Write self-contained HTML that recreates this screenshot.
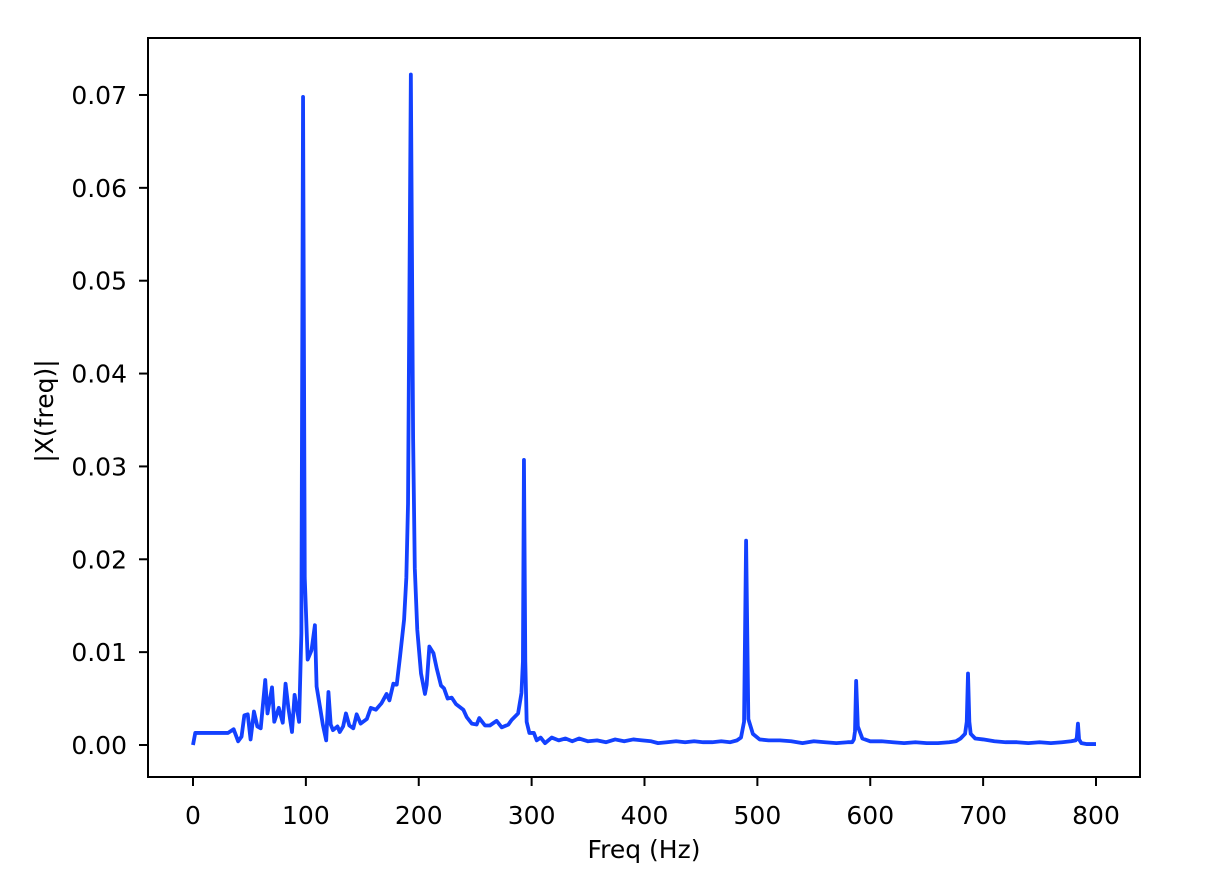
<!DOCTYPE html>
<html><head><meta charset="utf-8">
<style>
html,body{margin:0;padding:0;background:#fff;}
svg{display:block;}
text{font-family:"DejaVu Sans","Liberation Sans",sans-serif;fill:#000;}
</style></head>
<body>
<svg id="chart" width="1212" height="882" viewBox="0 0 1212 882" xmlns="http://www.w3.org/2000/svg">
<rect width="1212" height="882" fill="#fff"/>
<g id="axes"></g>
<path id="line" fill="none" stroke="#1341ff" stroke-width="3.8" stroke-linejoin="round"/>
<rect x="148" y="38" width="992" height="739" fill="none" stroke="#000" stroke-width="2"/>
<text x="644" y="858" font-size="25" text-anchor="middle">Freq (Hz)</text>
<text x="0" y="0" font-size="25" text-anchor="middle" transform="translate(53 411) rotate(-90)">|X(freq)|</text>
</svg>
<script>
const freqs = [0,2,31,36,40,43,45.5,48.5,51,54,57,60,64,66,70,72,76,79.5,82,84.5,87.7,90,94,96,97.5,99,101.6,105,108,109.5,112.5,115,118,120,122,124,128,130,133,135.5,138.5,142,145,148.5,154,157.5,162,167,171.5,174,177.5,180.5,183.4,187,189,190.5,193,195,196.5,198.7,202,205.5,207,209.4,213,216,219.7,222.4,225.6,229.2,233,239.5,242.5,247,251.3,253.6,258.7,263,269,273.5,279.4,282.3,288,291,292.3,293.2,294.4,295.6,298,302,304.5,308,311.9,317.8,324,330,336,342,350,358,366,374,382,390,398,406,412,420,428,436,444,452,460,468,476,482,485.5,488.2,490,492,496,502,510,520,530,540,550,560,570,580,584,585.5,586.5,587.5,589,593,600,610,620,630,640,650,660,670,676,680,684,685.5,686.6,687.8,689,693,700,710,720,730,740,750,760,770,778,782,783,784,785,787,792,800];
const mags = [0,0.0013,0.0013,0.0017,0.0004,0.0009,0.0032,0.0033,0.0006,0.0036,0.002,0.0018,0.007,0.0034,0.0062,0.0025,0.004,0.0024,0.0066,0.004,0.0014,0.0054,0.0025,0.012,0.0698,0.018,0.0092,0.0102,0.0129,0.0063,0.0041,0.0022,0.0005,0.0057,0.0022,0.0016,0.002,0.0014,0.002,0.0034,0.0021,0.0018,0.0033,0.0023,0.0028,0.004,0.0038,0.0045,0.0055,0.0048,0.0066,0.0065,0.0095,0.0135,0.018,0.026,0.0722,0.033,0.019,0.0124,0.0077,0.0055,0.0065,0.0106,0.0099,0.0082,0.0064,0.0061,0.005,0.0051,0.0044,0.0038,0.003,0.0023,0.0022,0.0029,0.0021,0.0021,0.0026,0.0019,0.0022,0.0027,0.0034,0.0056,0.009,0.0307,0.009,0.0025,0.0013,0.0013,0.0005,0.0008,0.0002,0.0008,0.0005,0.0007,0.0004,0.0007,0.0004,0.0005,0.0003,0.0006,0.0004,0.0006,0.0005,0.0004,0.0002,0.0003,0.0004,0.0003,0.0004,0.0003,0.0003,0.0004,0.0003,0.0005,0.0008,0.0025,0.0220,0.0028,0.0012,0.0006,0.0005,0.0005,0.0004,0.0002,0.0004,0.0003,0.0002,0.0003,0.0003,0.0006,0.0015,0.0069,0.002,0.0007,0.0004,0.0004,0.0003,0.0002,0.0003,0.0002,0.0002,0.0003,0.0004,0.0007,0.0012,0.0025,0.0077,0.0025,0.0012,0.0007,0.0006,0.0004,0.0003,0.0003,0.0002,0.0003,0.0002,0.0003,0.0004,0.0005,0.0008,0.0023,0.0006,0.0002,0.0001,0.0001];
const xTicks = [0,100,200,300,400,500,600,700,800];
const xTickLabels = ["0","100","200","300","400","500","600","700","800"];
const yTicks = [0,0.01,0.02,0.03,0.04,0.05,0.06,0.07];
const yTickLabels = ["0.00","0.01","0.02","0.03","0.04","0.05","0.06","0.07"];

const X = f => 193 + f * (903 / 800);
const Y = v => 745 - v * 9286;
const NS = "http://www.w3.org/2000/svg";
const axes = document.getElementById('axes');

let d = '';
const n = Math.min(freqs.length, mags.length);
for (let i = 0; i < n; i++) { d += (i ? 'L' : 'M') + X(freqs[i]).toFixed(2) + ' ' + Y(mags[i]).toFixed(2); }
document.getElementById('line').setAttribute('d', d);

xTicks.forEach((t, i) => {
  const l = document.createElementNS(NS, 'line');
  l.setAttribute('x1', X(t)); l.setAttribute('x2', X(t));
  l.setAttribute('y1', 777); l.setAttribute('y2', 786);
  l.setAttribute('stroke', '#000'); l.setAttribute('stroke-width', '2');
  
  
  axes.appendChild(l);
  const tx = document.createElementNS(NS, 'text');
  tx.setAttribute('x', X(t)); tx.setAttribute('y', 824);
  tx.setAttribute('font-size', '25'); tx.setAttribute('text-anchor', 'middle');
  tx.textContent = xTickLabels[i];
  
  
  axes.appendChild(tx);
});
yTicks.forEach((t, i) => {
  const l = document.createElementNS(NS, 'line');
  l.setAttribute('x1', 139); l.setAttribute('x2', 148);
  l.setAttribute('y1', Y(t)); l.setAttribute('y2', Y(t));
  l.setAttribute('stroke', '#000'); l.setAttribute('stroke-width', '2');
  
  
  axes.appendChild(l);
  const tx = document.createElementNS(NS, 'text');
  tx.setAttribute('x', 127); tx.setAttribute('y', Y(t) + 9);
  tx.setAttribute('font-size', '25'); tx.setAttribute('text-anchor', 'end');
  tx.textContent = yTickLabels[i];
  
  
  axes.appendChild(tx);
});
</script>
</body></html>
